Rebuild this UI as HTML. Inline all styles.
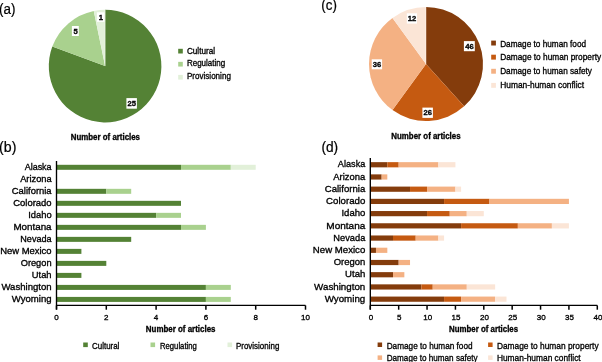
<!DOCTYPE html>
<html><head><meta charset="utf-8"><style>
html,body{margin:0;padding:0;background:#fff;width:602px;height:362px;overflow:hidden}
svg{display:block;font-family:"Liberation Sans", sans-serif;will-change:transform}
text{stroke:#000;stroke-width:0.32px}
</style></head><body>
<svg width="602" height="362" viewBox="0 0 602 362">
<text x="-1.0" y="13.5" font-size="14" textLength="16.4" lengthAdjust="spacingAndGlyphs" fill="#000" style="stroke-width:0.22px">(a)</text>
<path d="M105.1,66.1 L105.10,9.80 A56.3,56.3 0 1 1 52.30,46.55 Z" fill="#548235"/>
<path d="M105.1,66.1 L52.30,46.55 A56.3,56.3 0 0 1 93.77,10.95 Z" fill="#A9D18E"/>
<path d="M105.1,66.1 L93.77,10.95 A56.3,56.3 0 0 1 105.10,9.80 Z" fill="#E2F0D9"/>
<path d="M105.1,66.1 V9.799999999999997" stroke="#fff" stroke-width="0.5" opacity="0.8"/>
<rect x="96.9" y="12.3" width="7.50" height="9.50" fill="#fff"/>
<text x="100.80" y="19.55" font-size="8.0" text-anchor="middle" font-weight="bold" textLength="4.25" lengthAdjust="spacingAndGlyphs" fill="#000">1</text>
<rect x="71.9" y="26" width="6.90" height="10.00" fill="#fff"/>
<text x="75.50" y="33.50" font-size="8.0" text-anchor="middle" font-weight="bold" textLength="4.25" lengthAdjust="spacingAndGlyphs" fill="#000">5</text>
<rect x="126.4" y="98.1" width="10.50" height="10.60" fill="#fff"/>
<text x="131.80" y="105.90" font-size="8.0" text-anchor="middle" font-weight="bold" textLength="8.5" lengthAdjust="spacingAndGlyphs" fill="#000">25</text>
<rect x="178.2" y="48.80" width="4.6" height="4.7" fill="#548235"/>
<text x="186.9" y="53.9" font-size="8.6" textLength="28.2" lengthAdjust="spacingAndGlyphs" fill="#000">Cultural</text>
<rect x="178.2" y="61.85" width="4.6" height="4.7" fill="#A9D18E"/>
<text x="186.9" y="65.9" font-size="8.6" textLength="38.3" lengthAdjust="spacingAndGlyphs" fill="#000">Regulating</text>
<rect x="178.2" y="74.90" width="4.6" height="4.7" fill="#E2F0D9"/>
<text x="186.9" y="79.0" font-size="8.6" textLength="44.0" lengthAdjust="spacingAndGlyphs" fill="#000">Provisioning</text>
<text x="70.8" y="139.6" font-size="8.5" font-weight="bold" textLength="69.2" lengthAdjust="spacingAndGlyphs" fill="#000">Number of articles</text>
<text x="321.3" y="10.3" font-size="14" textLength="15.6" lengthAdjust="spacingAndGlyphs" fill="#000" style="stroke-width:0.22px">(c)</text>
<path d="M426,64 L426.00,7.00 A57,57 0 0 1 464.14,106.36 Z" fill="#843C0C"/>
<path d="M426,64 L464.14,106.36 A57,57 0 0 1 392.50,110.11 Z" fill="#C55A11"/>
<path d="M426,64 L392.50,110.11 A57,57 0 0 1 392.50,17.89 Z" fill="#F4B183"/>
<path d="M426,64 L392.50,17.89 A57,57 0 0 1 426.00,7.00 Z" fill="#FBE5D6"/>
<path d="M426,64 V7" stroke="#fff" stroke-width="0.5" opacity="0.8"/>
<rect x="463.9" y="41.1" width="10.90" height="10.10" fill="#fff"/>
<text x="469.50" y="48.65" font-size="8.0" text-anchor="middle" font-weight="bold" textLength="8.5" lengthAdjust="spacingAndGlyphs" fill="#000">46</text>
<rect x="422.4" y="107.6" width="10.50" height="10.30" fill="#fff"/>
<text x="427.80" y="115.25" font-size="8.0" text-anchor="middle" font-weight="bold" textLength="8.5" lengthAdjust="spacingAndGlyphs" fill="#000">26</text>
<rect x="371.7" y="59.3" width="10.40" height="10.00" fill="#fff"/>
<text x="377.05" y="66.80" font-size="8.0" text-anchor="middle" font-weight="bold" textLength="8.5" lengthAdjust="spacingAndGlyphs" fill="#000">36</text>
<rect x="406.8" y="13.3" width="10.20" height="10.30" fill="#fff"/>
<text x="412.05" y="20.95" font-size="8.0" text-anchor="middle" font-weight="bold" textLength="8.5" lengthAdjust="spacingAndGlyphs" fill="#000">12</text>
<rect x="491.2" y="40.60" width="4.7" height="4.9" fill="#843C0C"/>
<text x="500.2" y="46.60" font-size="9.0" textLength="85.9" lengthAdjust="spacingAndGlyphs" fill="#000">Damage to human food</text>
<rect x="491.2" y="54.70" width="4.7" height="4.9" fill="#C55A11"/>
<text x="500.2" y="60.40" font-size="9.0" textLength="100.9" lengthAdjust="spacingAndGlyphs" fill="#000">Damage to human property</text>
<rect x="491.2" y="68.80" width="4.7" height="4.9" fill="#F4B183"/>
<text x="500.2" y="74.20" font-size="9.0" textLength="91.7" lengthAdjust="spacingAndGlyphs" fill="#000">Damage to human safety</text>
<rect x="491.2" y="82.90" width="4.7" height="4.9" fill="#FBE5D6"/>
<text x="500.2" y="88.00" font-size="9.0" textLength="83.9" lengthAdjust="spacingAndGlyphs" fill="#000">Human-human conflict</text>
<text x="391.3" y="138.8" font-size="8.5" font-weight="bold" textLength="69.3" lengthAdjust="spacingAndGlyphs" fill="#000">Number of articles</text>
<rect x="56.50" y="164.80" width="124.50" height="5.0" fill="#548235"/>
<rect x="181.00" y="164.80" width="49.80" height="5.0" fill="#A9D18E"/>
<rect x="230.80" y="164.80" width="24.90" height="5.0" fill="#E2F0D9"/>
<text x="51.6" y="170.00" font-size="9.2" text-anchor="end" textLength="26.9" lengthAdjust="spacingAndGlyphs" fill="#000">Alaska</text>
<text x="51.6" y="182.01" font-size="9.2" text-anchor="end" textLength="31.4" lengthAdjust="spacingAndGlyphs" fill="#000">Arizona</text>
<rect x="56.50" y="188.82" width="49.80" height="5.0" fill="#548235"/>
<rect x="106.30" y="188.82" width="24.90" height="5.0" fill="#A9D18E"/>
<text x="51.6" y="194.02" font-size="9.2" text-anchor="end" textLength="39.8" lengthAdjust="spacingAndGlyphs" fill="#000">California</text>
<rect x="56.50" y="200.83" width="124.50" height="5.0" fill="#548235"/>
<text x="51.6" y="206.03" font-size="9.2" text-anchor="end" textLength="38.4" lengthAdjust="spacingAndGlyphs" fill="#000">Colorado</text>
<rect x="56.50" y="212.84" width="99.60" height="5.0" fill="#548235"/>
<rect x="156.10" y="212.84" width="24.90" height="5.0" fill="#A9D18E"/>
<text x="51.6" y="218.04" font-size="9.2" text-anchor="end" textLength="23.4" lengthAdjust="spacingAndGlyphs" fill="#000">Idaho</text>
<rect x="56.50" y="224.85" width="124.50" height="5.0" fill="#548235"/>
<rect x="181.00" y="224.85" width="24.90" height="5.0" fill="#A9D18E"/>
<text x="51.6" y="230.05" font-size="9.2" text-anchor="end" textLength="38.2" lengthAdjust="spacingAndGlyphs" fill="#000">Montana</text>
<rect x="56.50" y="236.86" width="74.70" height="5.0" fill="#548235"/>
<text x="51.6" y="242.06" font-size="9.2" text-anchor="end" textLength="31.3" lengthAdjust="spacingAndGlyphs" fill="#000">Nevada</text>
<rect x="56.50" y="248.87" width="24.90" height="5.0" fill="#548235"/>
<text x="51.6" y="254.07" font-size="9.2" text-anchor="end" textLength="51.4" lengthAdjust="spacingAndGlyphs" fill="#000">New Mexico</text>
<rect x="56.50" y="260.88" width="49.80" height="5.0" fill="#548235"/>
<text x="51.6" y="266.08" font-size="9.2" text-anchor="end" textLength="30.9" lengthAdjust="spacingAndGlyphs" fill="#000">Oregon</text>
<rect x="56.50" y="272.89" width="24.90" height="5.0" fill="#548235"/>
<text x="51.6" y="278.09" font-size="9.2" text-anchor="end" textLength="19.8" lengthAdjust="spacingAndGlyphs" fill="#000">Utah</text>
<rect x="56.50" y="284.90" width="149.40" height="5.0" fill="#548235"/>
<rect x="205.90" y="284.90" width="24.90" height="5.0" fill="#A9D18E"/>
<text x="51.6" y="290.10" font-size="9.2" text-anchor="end" textLength="50.2" lengthAdjust="spacingAndGlyphs" fill="#000">Washington</text>
<rect x="56.50" y="296.91" width="149.40" height="5.0" fill="#548235"/>
<rect x="205.90" y="296.91" width="24.90" height="5.0" fill="#A9D18E"/>
<text x="51.6" y="302.11" font-size="9.2" text-anchor="end" textLength="39.8" lengthAdjust="spacingAndGlyphs" fill="#000">Wyoming</text>
<path d="M56.5,161 V309.59999999999997 M56.5,305.4 H305.50" stroke="#000" stroke-width="1.35" fill="none"/>
<path d="M56.50,305.4 V309.7" stroke="#000" stroke-width="1.5"/>
<text x="56.50" y="320.2" font-size="8.0" text-anchor="middle" fill="#000">0</text>
<path d="M106.30,305.4 V309.7" stroke="#000" stroke-width="1.5"/>
<text x="106.30" y="320.2" font-size="8.0" text-anchor="middle" fill="#000">2</text>
<path d="M156.10,305.4 V309.7" stroke="#000" stroke-width="1.5"/>
<text x="156.10" y="320.2" font-size="8.0" text-anchor="middle" fill="#000">4</text>
<path d="M205.90,305.4 V309.7" stroke="#000" stroke-width="1.5"/>
<text x="205.90" y="320.2" font-size="8.0" text-anchor="middle" fill="#000">6</text>
<path d="M255.70,305.4 V309.7" stroke="#000" stroke-width="1.5"/>
<text x="255.70" y="320.2" font-size="8.0" text-anchor="middle" fill="#000">8</text>
<path d="M305.50,305.4 V309.7" stroke="#000" stroke-width="1.5"/>
<text x="305.50" y="320.2" font-size="8.0" text-anchor="middle" fill="#000">10</text>
<rect x="370.30" y="162.15" width="17.02" height="5.2" fill="#843C0C"/>
<rect x="387.32" y="162.15" width="11.35" height="5.2" fill="#C55A11"/>
<rect x="398.68" y="162.15" width="39.73" height="5.2" fill="#F4B183"/>
<rect x="438.40" y="162.15" width="17.02" height="5.2" fill="#FBE5D6"/>
<text x="365.3" y="167.45" font-size="9.3" text-anchor="end" textLength="27.44" lengthAdjust="spacingAndGlyphs" fill="#000">Alaska</text>
<rect x="370.30" y="174.37" width="11.35" height="5.2" fill="#843C0C"/>
<rect x="381.65" y="174.37" width="5.67" height="5.2" fill="#F4B183"/>
<text x="365.3" y="179.67" font-size="9.3" text-anchor="end" textLength="32.03" lengthAdjust="spacingAndGlyphs" fill="#000">Arizona</text>
<rect x="370.30" y="186.59" width="39.73" height="5.2" fill="#843C0C"/>
<rect x="410.03" y="186.59" width="17.02" height="5.2" fill="#C55A11"/>
<rect x="427.05" y="186.59" width="28.38" height="5.2" fill="#F4B183"/>
<rect x="455.43" y="186.59" width="5.67" height="5.2" fill="#FBE5D6"/>
<text x="365.3" y="191.89" font-size="9.3" text-anchor="end" textLength="40.6" lengthAdjust="spacingAndGlyphs" fill="#000">California</text>
<rect x="370.30" y="198.81" width="73.77" height="5.2" fill="#843C0C"/>
<rect x="444.07" y="198.81" width="45.40" height="5.2" fill="#C55A11"/>
<rect x="489.47" y="198.81" width="79.45" height="5.2" fill="#F4B183"/>
<text x="365.3" y="204.11" font-size="9.3" text-anchor="end" textLength="39.17" lengthAdjust="spacingAndGlyphs" fill="#000">Colorado</text>
<rect x="370.30" y="211.03" width="56.75" height="5.2" fill="#843C0C"/>
<rect x="427.05" y="211.03" width="22.70" height="5.2" fill="#C55A11"/>
<rect x="449.75" y="211.03" width="17.02" height="5.2" fill="#F4B183"/>
<rect x="466.77" y="211.03" width="17.02" height="5.2" fill="#FBE5D6"/>
<text x="365.3" y="216.33" font-size="9.3" text-anchor="end" textLength="23.87" lengthAdjust="spacingAndGlyphs" fill="#000">Idaho</text>
<rect x="370.30" y="223.25" width="90.80" height="5.2" fill="#843C0C"/>
<rect x="461.10" y="223.25" width="56.75" height="5.2" fill="#C55A11"/>
<rect x="517.85" y="223.25" width="34.05" height="5.2" fill="#F4B183"/>
<rect x="551.90" y="223.25" width="17.02" height="5.2" fill="#FBE5D6"/>
<text x="365.3" y="228.55" font-size="9.3" text-anchor="end" textLength="38.96" lengthAdjust="spacingAndGlyphs" fill="#000">Montana</text>
<rect x="370.30" y="235.47" width="22.70" height="5.2" fill="#843C0C"/>
<rect x="393.00" y="235.47" width="22.70" height="5.2" fill="#C55A11"/>
<rect x="415.70" y="235.47" width="22.70" height="5.2" fill="#F4B183"/>
<rect x="438.40" y="235.47" width="5.67" height="5.2" fill="#FBE5D6"/>
<text x="365.3" y="240.77" font-size="9.3" text-anchor="end" textLength="31.93" lengthAdjust="spacingAndGlyphs" fill="#000">Nevada</text>
<rect x="370.30" y="247.69" width="5.67" height="5.2" fill="#843C0C"/>
<rect x="375.98" y="247.69" width="11.35" height="5.2" fill="#F4B183"/>
<text x="365.3" y="252.99" font-size="9.3" text-anchor="end" textLength="52.43" lengthAdjust="spacingAndGlyphs" fill="#000">New Mexico</text>
<rect x="370.30" y="259.91" width="28.38" height="5.2" fill="#843C0C"/>
<rect x="398.68" y="259.91" width="11.35" height="5.2" fill="#F4B183"/>
<text x="365.3" y="265.21" font-size="9.3" text-anchor="end" textLength="31.52" lengthAdjust="spacingAndGlyphs" fill="#000">Oregon</text>
<rect x="370.30" y="272.13" width="22.70" height="5.2" fill="#843C0C"/>
<rect x="393.00" y="272.13" width="11.35" height="5.2" fill="#F4B183"/>
<text x="365.3" y="277.43" font-size="9.3" text-anchor="end" textLength="20.2" lengthAdjust="spacingAndGlyphs" fill="#000">Utah</text>
<rect x="370.30" y="284.35" width="51.07" height="5.2" fill="#843C0C"/>
<rect x="421.38" y="284.35" width="11.35" height="5.2" fill="#C55A11"/>
<rect x="432.73" y="284.35" width="34.05" height="5.2" fill="#F4B183"/>
<rect x="466.78" y="284.35" width="28.38" height="5.2" fill="#FBE5D6"/>
<text x="365.3" y="289.65" font-size="9.3" text-anchor="end" textLength="51.2" lengthAdjust="spacingAndGlyphs" fill="#000">Washington</text>
<rect x="370.30" y="296.57" width="73.77" height="5.2" fill="#843C0C"/>
<rect x="444.07" y="296.57" width="17.02" height="5.2" fill="#C55A11"/>
<rect x="461.10" y="296.57" width="34.05" height="5.2" fill="#F4B183"/>
<rect x="495.15" y="296.57" width="11.35" height="5.2" fill="#FBE5D6"/>
<text x="365.3" y="301.87" font-size="9.3" text-anchor="end" textLength="40.6" lengthAdjust="spacingAndGlyphs" fill="#000">Wyoming</text>
<path d="M370.3,158 V309.59999999999997 M370.3,305.4 H597.30" stroke="#000" stroke-width="1.35" fill="none"/>
<path d="M370.30,305.4 V309.7" stroke="#000" stroke-width="1.5"/>
<text x="370.90" y="320.2" font-size="8.0" text-anchor="middle" fill="#000">0</text>
<path d="M398.68,305.4 V309.7" stroke="#000" stroke-width="1.5"/>
<text x="399.28" y="320.2" font-size="8.0" text-anchor="middle" fill="#000">5</text>
<path d="M427.05,305.4 V309.7" stroke="#000" stroke-width="1.5"/>
<text x="427.65" y="320.2" font-size="8.0" text-anchor="middle" fill="#000">10</text>
<path d="M455.43,305.4 V309.7" stroke="#000" stroke-width="1.5"/>
<text x="456.03" y="320.2" font-size="8.0" text-anchor="middle" fill="#000">15</text>
<path d="M483.80,305.4 V309.7" stroke="#000" stroke-width="1.5"/>
<text x="484.40" y="320.2" font-size="8.0" text-anchor="middle" fill="#000">20</text>
<path d="M512.17,305.4 V309.7" stroke="#000" stroke-width="1.5"/>
<text x="512.77" y="320.2" font-size="8.0" text-anchor="middle" fill="#000">25</text>
<path d="M540.55,305.4 V309.7" stroke="#000" stroke-width="1.5"/>
<text x="541.15" y="320.2" font-size="8.0" text-anchor="middle" fill="#000">30</text>
<path d="M568.92,305.4 V309.7" stroke="#000" stroke-width="1.5"/>
<text x="569.52" y="320.2" font-size="8.0" text-anchor="middle" fill="#000">35</text>
<path d="M597.30,305.4 V309.7" stroke="#000" stroke-width="1.5"/>
<text x="597.90" y="320.2" font-size="8.0" text-anchor="middle" fill="#000">40</text>
<text x="-0.9" y="151.8" font-size="14" textLength="17.3" lengthAdjust="spacingAndGlyphs" fill="#000" style="stroke-width:0.22px">(b)</text>
<text x="321.4" y="151.8" font-size="14" textLength="16.8" lengthAdjust="spacingAndGlyphs" fill="#000" style="stroke-width:0.22px">(d)</text>
<text x="145.8" y="331.6" font-size="8.5" font-weight="bold" textLength="69.7" lengthAdjust="spacingAndGlyphs" fill="#000">Number of articles</text>
<text x="449.1" y="331.6" font-size="8.5" font-weight="bold" textLength="69.0" lengthAdjust="spacingAndGlyphs" fill="#000">Number of articles</text>
<rect x="83.2" y="342.5" width="4.6" height="4.6" fill="#548235"/>
<text x="92" y="348.9" font-size="8.6" textLength="27.4" lengthAdjust="spacingAndGlyphs" fill="#000">Cultural</text>
<rect x="150.5" y="342.5" width="4.6" height="4.6" fill="#A9D18E"/>
<text x="160" y="348.9" font-size="8.6" textLength="36.8" lengthAdjust="spacingAndGlyphs" fill="#000">Regulating</text>
<rect x="227.5" y="342.5" width="4.6" height="4.6" fill="#E2F0D9"/>
<text x="236" y="348.9" font-size="8.6" textLength="43.3" lengthAdjust="spacingAndGlyphs" fill="#000">Provisioning</text>
<rect x="377.6" y="342.5" width="4.5" height="4.5" fill="#843C0C"/>
<text x="386.7" y="348.8" font-size="9.0" textLength="85.89999999999999" lengthAdjust="spacingAndGlyphs" fill="#000">Damage to human food</text>
<rect x="488.1" y="342.5" width="4.5" height="4.5" fill="#C55A11"/>
<text x="496.9" y="348.8" font-size="9.0" textLength="101.7" lengthAdjust="spacingAndGlyphs" fill="#000">Damage to human property</text>
<rect x="377.6" y="355.4" width="4.5" height="4.5" fill="#F4B183"/>
<text x="386.7" y="360.7" font-size="9.0" textLength="90.89999999999999" lengthAdjust="spacingAndGlyphs" fill="#000">Damage to human safety</text>
<rect x="488.1" y="355.4" width="4.5" height="4.5" fill="#FBE5D6"/>
<text x="496.9" y="360.7" font-size="9.0" textLength="83.8" lengthAdjust="spacingAndGlyphs" fill="#000">Human-human conflict</text>
</svg>
</body></html>
